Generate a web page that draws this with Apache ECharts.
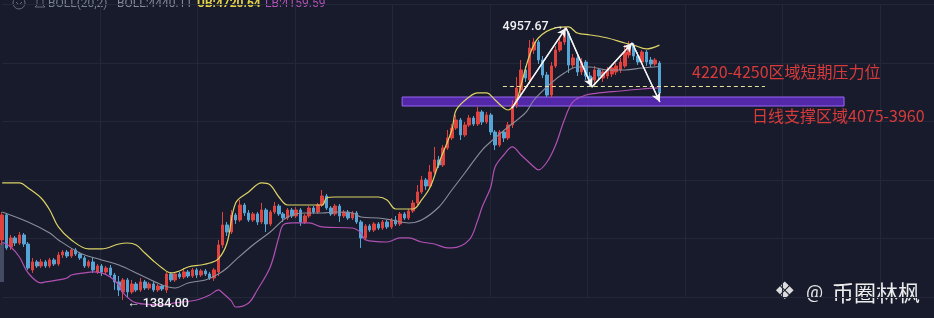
<!DOCTYPE html>
<html><head><meta charset="utf-8">
<script src="https://cdn.jsdelivr.net/npm/echarts@6/dist/echarts.min.js"></script>
<style>html,body{margin:0;padding:0;background:#171b2b;overflow:hidden}#c{width:934px;height:318px}</style>
</head><body><div id="c"></div>
<script>
// ---- data ----
const SLOT_COUNT = 216; // candle slots on the x axis (the right part is empty)
const categories = Array.from({length: SLOT_COUNT}, (_, i) => 'K' + i);

const opens = [2170,2497,2078,2196,2130,2235,2117,1777,1882,1829,
1882,1829,1908,1855,1973,2012,1960,2039,1986,1934,
1829,1882,1751,1829,1751,1803,1711,1620,1489,1646,
1489,1593,1515,1620,1541,1593,1515,1567,1515,1724,
1646,1724,1685,1751,1698,1777,1711,1764,1724,1672,
1751,2104,2366,2274,2497,2431,2627,2523,2431,2510,
2405,2562,2379,2536,2614,2510,2457,2562,2484,2562,
2405,2484,2588,2536,2627,2745,2588,2510,2614,2484,
2536,2457,2523,2405,2196,2353,2300,2379,2326,2405,
2340,2431,2379,2510,2457,2549,2654,2798,2955,2876,
3060,3217,3151,3374,3505,3635,3740,3544,3675,3766,
3688,3845,3714,3806,3583,3413,3583,3505,3675,3937,
4133,4395,4264,4656,4761,4526,4329,4067,4447,4656,
4761,4879,4460,4552,4369,4499,4316,4264,4395,4290,
4316,4342,4369,4395,4447,4591,4722,4578,4499,4630,
4526,4473,4486];
const closes = [2497,2065,2196,2130,2235,2117,1803,1882,1829,1882,
1829,1908,1855,1973,2012,1960,2039,1986,1934,1829,
1882,1777,1829,1751,1803,1711,1620,1515,1646,1489,
1593,1515,1620,1541,1593,1515,1567,1528,1724,1646,
1724,1685,1751,1698,1777,1711,1764,1724,1672,1777,
2104,2366,2274,2497,2431,2627,2523,2431,2510,2405,
2562,2379,2536,2614,2510,2457,2562,2484,2562,2405,
2484,2588,2536,2627,2745,2588,2510,2614,2484,2536,
2457,2523,2405,2196,2353,2300,2379,2326,2405,2340,
2431,2379,2510,2457,2549,2654,2798,2955,2876,3060,
3217,3151,3374,3505,3635,3740,3544,3675,3766,3688,
3845,3714,3806,3583,3413,3583,3505,3675,3937,4159,
4395,4290,4683,4761,4526,4329,4067,4447,4656,4761,
4879,4460,4552,4369,4499,4316,4238,4395,4316,4369,
4395,4421,4447,4499,4630,4722,4578,4499,4630,4499,
4473,4526,4094];
const lows = [2104,2039,2039,2091,2104,2078,1777,1738,1803,1803,
1803,1803,1829,1829,1934,1934,1934,1960,1908,1803,
1803,1738,1724,1698,1724,1672,1515,1436,1384,1410,
1463,1489,1489,1515,1515,1489,1489,1502,1476,1620,
1620,1659,1659,1672,1672,1672,1685,1698,1646,1633,
1698,2065,2222,2248,2379,2405,2484,2405,2405,2366,
2379,2274,2353,2510,2484,2405,2431,2457,2457,2353,
2379,2457,2510,2510,2601,2562,2484,2484,2405,2457,
2431,2431,2379,2065,2170,2274,2274,2300,2300,2313,
2313,2353,2353,2431,2431,2523,2627,2772,2824,2850,
3033,3112,3125,3347,3478,3609,3478,3518,3649,3662,
3662,3675,3688,3544,3347,3387,3452,3478,3635,3897,
4067,4238,4211,4604,4473,4290,4041,4028,4421,4630,
4722,4355,4421,4316,4329,4264,4172,4211,4264,4238,
4277,4303,4329,4355,4421,4552,4526,4460,4473,4447,
4434,4447,4067];
const highs = [2536,2523,2235,2222,2274,2261,2143,1934,1908,1921,
1908,1934,1934,2012,2039,2039,2065,2065,2012,1960,
1908,1934,1855,1855,1829,1842,1738,1698,1672,1672,
1646,1620,1672,1646,1620,1620,1593,1593,1751,1751,
1751,1751,1803,1777,1803,1803,1790,1790,1751,1803,
2170,2536,2405,2562,2523,2693,2654,2562,2536,2536,
2654,2588,2562,2667,2641,2536,2588,2588,2601,2588,
2510,2614,2614,2654,2824,2772,2614,2641,2641,2562,
2562,2549,2549,2431,2379,2379,2405,2405,2431,2431,
2457,2484,2536,2536,2575,2693,2889,3007,2981,3151,
3387,3269,3413,3609,3688,3806,3766,3714,3806,3793,
3910,3871,3845,3832,3609,3609,3609,3714,4002,4303,
4526,4447,4787,4814,4787,4578,4369,4499,4709,4814,
4957.67,4905,4604,4591,4552,4526,4369,4447,4421,4395,
4434,4460,4486,4552,4722,4774,4748,4630,4656,4656,
4565,4552,4512];

// Bollinger bands: [candle index, value]
const upperBand = [[0,2916],[4,2916],[6,2850],[9,2719],[11,2562],[13,2340],[16,2170],[20,2052],[23,2052],[27,2117],[29,2130],[31,2104],[33,1999],[35,1895],[37,1803],[39,1738],[41,1764],[43,1816],[46,1842],[48,1868],[50,1921],[52,2130],[54,2654],[57,2798],[60,2916],[62,2889],[64,2732],[66,2627],[74,2627],[75,2719],[77,2732],[87,2732],[89,2693],[91,2575],[95,2575],[97,2693],[99,2863],[101,3177],[104,3609],[105,3871],[108,4041],[110,4094],[112,4094],[114,4002],[116,3897],[117,3871],[119,4002],[120,4198],[122,4591],[124,4814],[128,4946],[131,4958],[133,4879],[136,4853],[140,4814],[144,4748],[146,4722],[149,4670],[152,4720.64]];
const midBand = [[0,2536],[6,2405],[11,2261],[13,2170],[18,1999],[23,1908],[27,1842],[32,1711],[37,1580],[40,1541],[43,1607],[47,1646],[50,1724],[52,1803],[54,1908],[58,2104],[62,2274],[66,2470],[70,2523],[74,2523],[77,2536],[81,2523],[83,2470],[87,2457],[90,2431],[94,2392],[97,2431],[101,2601],[104,2824],[107,3046],[111,3347],[114,3505],[117,3649],[121,3832],[123,4002],[127,4225],[130,4355],[133,4434],[136,4434],[140,4395],[144,4395],[148,4421],[152,4440.11]];
const lowerBand = [[0,2143],[2,2078],[4,1947],[6,1738],[9,1607],[10,1620],[13,1646],[15,1672],[16,1711],[19,1738],[21,1751],[23,1738],[25,1685],[27,1580],[28,1476],[31,1345],[37,1319],[40,1345],[45,1384],[48,1449],[50,1515],[51,1476],[53,1371],[54,1292],[57,1345],[59,1515],[62,1816],[64,2209],[65,2366],[67,2392],[71,2392],[74,2340],[81,2326],[83,2261],[84,2170],[89,2143],[92,2196],[94,2196],[97,2143],[100,2117],[103,2065],[104,2065],[108,2170],[110,2431],[111,2601],[113,2863],[114,3125],[116,3282],[118,3387],[120,3282],[123,3125],[124,3086],[126,3190],[128,3413],[130,3740],[132,3976],[135,4067],[138,4094],[143,4120],[148,4146],[152,4159.59]];

const bollLast = {mid: 4440.11, ub: 4720.64, lb: 4159.59};
const highPoint = [130, 4957.67];
const lowPoint = [28, 1384.00];

// hand-drawn annotations (candle-index units, price)
const zigzag = [[117.9,3897],[130.4,4946],[136.4,4172],[145.7,4748],[152.1,3976]];
const resistanceLine = {from: 115.8, to: 176.4, price: 4185};
const supportBox = {from: 92.5, to: 194.7, top: 4041, bottom: 3923};
const resistanceText = '4220-4250区域短期压力位';
const supportText = '日线支撑区域4075-3960';

// ---- chart ----
const chart = echarts.init(document.getElementById('c'), null, {renderer: 'canvas'});
const candleData = opens.map((o, i) => [o, closes[i], lows[i], highs[i]]);
const RED = '#e0433e', BLUE = '#55a6d6';

const arrowSegs = [];
for (let k = 0; k < zigzag.length - 1; k++) {
  arrowSegs.push([{coord: zigzag[k]}, {coord: zigzag[k + 1]}]);
}

const option = {
  backgroundColor: '#171b2b',
  animation: false,
  grid: [
    {left: 0, right: 0, top: 0, bottom: 0},
    {left: 2.5, right: 0, top: 4.5, bottom: 21}
  ],
  xAxis: [
    {type: 'category', data: categories, gridIndex: 0, show: false, boundaryGap: true},
    {type: 'value', gridIndex: 0, min: -0.5, max: SLOT_COUNT - 0.5, show: false},
    {type: 'value', gridIndex: 1, min: 0, max: 9.554, interval: 1,
     axisLine: {show: false}, axisTick: {show: false}, axisLabel: {show: false},
     splitLine: {show: true, showMinLine: false, lineStyle: {color: '#232839', width: 1}}}
  ],
  yAxis: [
    {type: 'value', gridIndex: 0, min: 1148, max: 5311, show: false, splitLine: {show: false}},
    {type: 'value', gridIndex: 1, min: 0, max: 5, interval: 1,
     axisLine: {show: false}, axisTick: {show: false}, axisLabel: {show: false},
     splitLine: {show: true, lineStyle: {color: '#232839', width: 1}}}
  ],
  series: [
    {
      type: 'candlestick', xAxisIndex: 0, yAxisIndex: 0, data: candleData,
      barWidth: 3, z: 3,
      itemStyle: {color: RED, color0: BLUE, borderColor: RED, borderColor0: BLUE, borderWidth: 1},
      markPoint: {
        symbol: 'circle', symbolSize: 0, silent: true,
        data: [
          {coord: highPoint, label: {show: true, position: 'left', distance: 0, offset: [0, 0],
            formatter: highPoint[1].toFixed(2) + ' →', color: '#f2f2f2', fontSize: 12.5, fontWeight: 500,
            fontFamily: 'Roboto, Arial, sans-serif'}},
          {coord: lowPoint, label: {show: true, position: 'right', distance: 4, offset: [0, 4],
            formatter: '← ' + lowPoint[1].toFixed(2), color: '#f2f2f2', fontSize: 12.5, fontWeight: 500,
            fontFamily: 'Roboto, Arial, sans-serif'}}
        ]
      }
    },
    {type: 'line', name: 'UB', xAxisIndex: 0, yAxisIndex: 0, data: upperBand, smooth: 0.35,
     symbol: 'none', z: 4, lineStyle: {color: '#ddd366', width: 1.2}},
    {type: 'line', name: 'BOLL', xAxisIndex: 0, yAxisIndex: 0, data: midBand, smooth: 0.35,
     symbol: 'none', z: 4, lineStyle: {color: '#8b8d9b', width: 1.1}},
    {type: 'line', name: 'LB', xAxisIndex: 0, yAxisIndex: 0, data: lowerBand, smooth: 0.35,
     symbol: 'none', z: 4, lineStyle: {color: '#b050b3', width: 1.2}},
    {
      type: 'line', xAxisIndex: 1, yAxisIndex: 0, data: [], z: 6, silent: true,
      markArea: {
        silent: true,
        itemStyle: {color: 'rgba(98,42,200,0.8)', borderColor: '#9a66f5', borderWidth: 1},
        data: [[{coord: [supportBox.from, supportBox.top]}, {coord: [supportBox.to, supportBox.bottom]}]]
      },
      markLine: {
        silent: true, symbol: ['none', 'none'], label: {show: false},
        lineStyle: {color: '#ece29c', type: [4, 3], width: 1},
        data: [[{coord: [resistanceLine.from, resistanceLine.price]}, {coord: [resistanceLine.to, resistanceLine.price]}]]
      }
    },
    {
      type: 'line', xAxisIndex: 1, yAxisIndex: 0, data: zigzag, z: 8, silent: true,
      symbol: 'none', lineStyle: {color: '#f4f4f4', width: 1.3},
      markLine: {
        silent: true, symbol: ['none', 'arrow'], symbolSize: [7, 9], label: {show: false},
        lineStyle: {color: '#f4f4f4', width: 1.3, type: 'solid'},
        data: arrowSegs
      }
    }
  ],
  graphic: [
    {type: 'circle', shape: {cx: 19, cy: 3, r: 6}, style: {stroke: '#676c7e', fill: 'none', lineWidth: 1}},
    {type: 'polyline', shape: {points: [[16, 2], [19, 5], [22, 2]]}, style: {stroke: '#676c7e', fill: null, lineWidth: 1}},
    {type: 'polyline', shape: {points: [[35, 7], [37, 5], [37, 0], [40, -2], [43, 0], [43, 5], [45, 7], [35, 7]]},
     style: {stroke: '#676c7e', fill: null, lineWidth: 1}},
    {type: 'text', x: 48, y: 4, style: {text: 'BOLL(20,2)', font: '12px Roboto, sans-serif', fill: '#7b8092', verticalAlign: 'middle'}},
    {type: 'text', x: 117, y: 4, style: {text: 'BOLL:' + bollLast.mid.toFixed(2), font: '12px Roboto, sans-serif', fill: '#858a9c', verticalAlign: 'middle'}},
    {type: 'text', x: 197, y: 4, style: {text: 'UB:' + bollLast.ub.toFixed(2), font: 'bold 12px Roboto, sans-serif', fill: '#e3d04a', verticalAlign: 'middle'}},
    {type: 'text', x: 265, y: 4, style: {text: 'LB:' + bollLast.lb.toFixed(2), font: '12px Roboto, sans-serif', fill: '#b451b8', verticalAlign: 'middle'}},
    {type: 'rect', shape: {x: 0, y: 243, width: 4, height: 39}, style: {fill: '#454b63'}},
    {type: 'text', x: 692, y: 72, z: 10, style: {text: resistanceText, font: '16px "Noto Sans CJK SC", sans-serif', fill: '#d93b3b', verticalAlign: 'middle'}},
    {type: 'text', x: 752, y: 116, z: 10, style: {text: supportText, font: '16px "Noto Sans CJK SC", sans-serif', fill: '#d93b3b', verticalAlign: 'middle'}},
    {type: 'text', x: 774, y: 293, style: {text: '❖', font: '24px "DejaVu Sans", sans-serif', fill: '#dcdcdc', verticalAlign: 'middle'}},
    {type: 'text', x: 806, y: 293, style: {text: '@', font: '19px Roboto, sans-serif', fill: '#e4e4e4', verticalAlign: 'middle'}},
    {type: 'text', x: 832, y: 293, style: {text: '币圈林枫', font: '22px "Noto Sans CJK SC", sans-serif', fill: '#ececec', verticalAlign: 'middle'}}
  ]
};
chart.setOption(option);
</script>
</body></html>
